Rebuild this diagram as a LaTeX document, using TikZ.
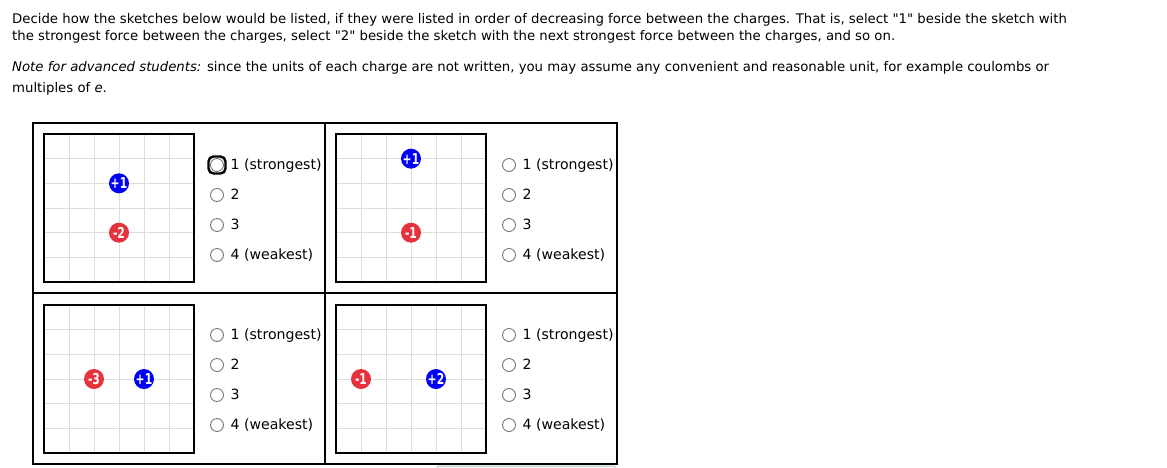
\documentclass[tikz,border=0pt]{standalone}
\usepackage{fontspec}
\setmainfont{DejaVu Sans}
\newfontfamily\chargefont{DejaVu Sans Condensed}
\definecolor{qblue}{RGB}{0,0,250}
\definecolor{qred}{RGB}{230,50,60}
\definecolor{gridgray}{RGB}{221,221,221}
\definecolor{radiogray}{RGB}{118,118,118}
\definecolor{faintline}{RGB}{170,190,195}
\newcommand{\qq}{\XeTeXglyph\the\XeTeXcharglyph"22\relax}
\newcommand{\chg}[1]{\scalebox{0.8}[1]{#1}}
\tikzset{
  txt/.style={anchor=base west, inner sep=0pt, font=\fontsize{13.27}{16}\selectfont},
  opt/.style={anchor=base west, inner sep=0pt, font=\fontsize{14.1}{16}\selectfont},
  chargebase/.style={circle, text=white, inner sep=0pt, minimum size=20pt,
    font=\chargefont\bfseries\fontsize{15}{15}\selectfont},
  chargepos/.style={chargebase, fill=qblue},
  chargeneg/.style={chargebase, fill=qred},
  radio/.style={circle, draw=radiogray, line width=0.9pt, fill=white, minimum size=13pt, inner sep=0pt},
  sketchgrid/.style={draw=gridgray, line width=1pt},
  sketchbox/.style={draw=black, line width=1.2pt},
  tableline/.style={draw=black, line width=1.2pt},
  focusring/.style={draw=black, line width=2.4pt, rounded corners=5pt},
}
\newcommand{\sketchframe}{%
  \foreach \i in {1,...,5} {\draw[sketchgrid] (\i*25,0) -- (\i*25,148);}
  \foreach \i in {1,...,5} {\draw[sketchgrid] (0,\i*24.667) -- (150,\i*24.667);}
  \draw[sketchbox] (0,0) rectangle (150,148);
}
\begin{document}
\begin{tikzpicture}[x=1pt,y=-1pt]
\useasboundingbox (0,0) rectangle (1167,467);
\fill[white] (0,0) rectangle (1167,467);

% instructions
\node[txt] (t1) at (12,23) {Decide how the sketches below would be listed, if they were listed in order of decreasing force between the charges. That is, select \qq1\qq{} beside the sketch with};
\node[txt] (t2) at (12,40) {the strongest force between the charges, select \qq2\qq{} beside the sketch with the next strongest force between the charges, and so on.};
\node[txt] (t3) at (12,71.5) {\textit{Note for advanced students:} since the units of each charge are not written, you may assume any convenient and reasonable unit, for example coulombs or};
\node[txt] (t4) at (12,92.5) {multiples of \textit{e}.};

% table
\draw[tableline] (33,123) rectangle (617,464);
\draw[tableline] (325,123) -- (325,464);
\draw[tableline] (33,293) -- (617,293);
\draw[draw=faintline, line width=1pt, rounded corners=1pt] (437,467.5) -- (437,466) -- (615,466) -- (615,467.5);

% sketch 1
\begin{scope}[shift={(44,134)}]
  \sketchframe
  \node[chargepos] (a1) at (75,49.33) {\chg{+1}};
  \node[chargeneg] (a2) at (75,98.67) {\chg{-2}};
\end{scope}
% sketch 2
\begin{scope}[shift={(336,134)}]
  \sketchframe
  \node[chargepos] (b1) at (75,24.67) {\chg{+1}};
  \node[chargeneg] (b2) at (75,98.67) {\chg{-1}};
\end{scope}
% sketch 3
\begin{scope}[shift={(44,305)}]
  \sketchframe
  \node[chargeneg] (c1) at (50,74) {\chg{-3}};
  \node[chargepos] (c2) at (100,74) {\chg{+1}};
\end{scope}
% sketch 4
\begin{scope}[shift={(336,305)}]
  \sketchframe
  \node[chargeneg] (d1) at (25,74) {\chg{-1}};
  \node[chargepos] (d2) at (100,74) {\chg{+2}};
\end{scope}

% radio groups
\foreach \cx/\cy/\g in {217/165/A, 509/165/B, 217/335/C, 509/335/D} {
  \foreach \k/\lab [count=\n from 0] in {1/1 (strongest), 2/2, 3/3, 4/4 (weakest)} {
    \node[radio] (r\g\k) at (\cx, \cy+\n*30) {};
    \node[opt] (l\g\k) at (\cx+13.5, \cy+\n*30+4.8) {\lab};
  }
}
\draw[focusring] ([shift={(-8.5,-8.5)}]rA1.center) rectangle ([shift={(8.5,8.5)}]rA1.center);
\end{tikzpicture}
\end{document}
